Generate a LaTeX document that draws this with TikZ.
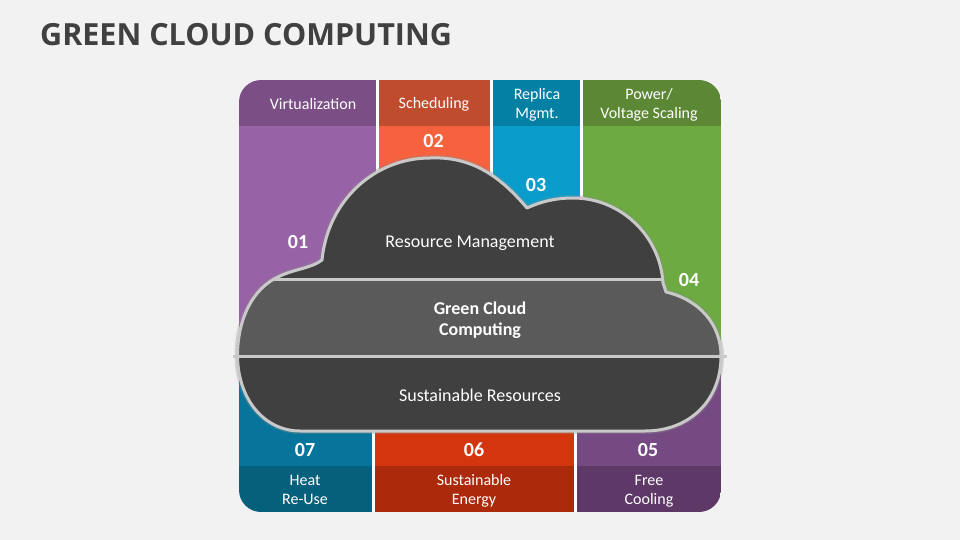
\documentclass[tikz,border=0pt]{standalone}
\usepackage{fontspec}
\setmainfont{Carlito}
\newfontfamily\titlefont{Open Sans}
\definecolor{pageBg}{HTML}{F2F2F2}
\definecolor{cloudDark}{HTML}{404040}
\definecolor{cloudMid}{HTML}{5A5A5A}
\definecolor{cloudEdge}{HTML}{C9C9C9}
\definecolor{purpleA}{HTML}{9862A6}
\definecolor{purpleAh}{HTML}{7B4F85}
\definecolor{orangeA}{HTML}{F5623D}
\definecolor{orangeAh}{HTML}{C04C2F}
\definecolor{blueA}{HTML}{0A9DCB}
\definecolor{blueAh}{HTML}{0480A5}
\definecolor{greenA}{HTML}{6DAA42}
\definecolor{greenAh}{HTML}{5C8735}
\definecolor{tealA}{HTML}{07759B}
\definecolor{tealAh}{HTML}{05607C}
\definecolor{redA}{HTML}{D4340E}
\definecolor{redAh}{HTML}{AB2A0B}
\definecolor{plumA}{HTML}{754982}
\definecolor{plumAh}{HTML}{5E3968}
\tikzset{
  lbl/.style={text=white,font=\fontsize{16}{19}\selectfont,align=center,inner sep=0pt},
  big/.style={text=white,font=\fontsize{18}{21}\selectfont,align=center,inner sep=0pt},
  num/.style={text=white,font=\fontsize{20}{22}\selectfont\bfseries,inner sep=0pt,text height=13pt,text depth=0pt},
  edge/.style={draw=cloudEdge,line width=3pt}
}
\def\cloudpath{(237.5,356) .. controls (237.5,320) and (252,288) .. (280,276)
  .. controls (295,269) and (312,268) .. (322,260)
  .. controls (328,200) and (375,158) .. (430,158)
  .. controls (475,156) and (503,180) .. (527,208)
  .. controls (540,202) and (555,198) .. (573,198)
  .. controls (620,198) and (660,235) .. (663,283)
  -- (666,292)
  .. controls (700,300) and (721,325) .. (721,356)
  .. controls (721,400) and (690,431) .. (645,431)
  -- (300,431)
  .. controls (265,431) and (238,400) .. (237.5,356) -- cycle}
\begin{document}
\begin{tikzpicture}[x=1pt,y=-1pt]
  \fill[pageBg] (0,0) rectangle (960,540);
  \useasboundingbox (0,0) rectangle (960,540);
  \node[anchor=west,inner sep=0pt,text=cloudDark,font=\titlefont\bfseries\fontsize{30.5}{36}\selectfont] (title) at (40,35) {GREEN CLOUD COMPUTING};
  % panels
  \begin{scope}
    \clip[rounded corners=22pt] (239,80) rectangle (721,512);
    \fill[white] (239,80) rectangle (721,300);
    \fill[white] (239,385) rectangle (721,512);
    \foreach \xa/\xb/\col in {239/376/purpleA,379/490/orangeA,493/580/blueA,583/721/greenA}{
      \fill[\col] (\xa,126) rectangle (\xb,340);
      \fill[\col h] (\xa,80) rectangle (\xb,126);
    }
    \foreach \xa/\xb/\col in {239/372/tealA,375/573.5/redA,577/721/plumA}{
      \fill[\col] (\xa,360) rectangle (\xb,466);
      \fill[\col h] (\xa,466) rectangle (\xb,512);
    }
  \end{scope}
  % cloud
  \draw[black!45,opacity=.3,line width=6pt,line join=round] \cloudpath;
  \begin{scope}
    \clip \cloudpath;
    \fill[cloudDark] (230,150) rectangle (730,279);
    \fill[cloudMid] (230,279) rectangle (730,356);
    \fill[cloudDark] (230,356) rectangle (730,440);
  \end{scope}
  \draw[cloudEdge,line width=3pt,line join=round] \cloudpath;
  \coordinate (sepAl) at (274,279);
  \coordinate (sepAr) at (664,279);
  \coordinate (sepBl) at (233,356);
  \coordinate (sepBr) at (727,356);
  \draw[edge] (sepAl) -- (sepAr);
  \draw[edge] (sepBl) -- (sepBr);
  % header texts
  \node[lbl] (virt) at (313,104) {Virtualization};
  \node[lbl] (sched) at (434,104) {Scheduling};
  \node[lbl] (replica) at (537,104.5) {Replica\\Mgmt.};
  \node[lbl] (power) at (649,104.5) {Power/\\Voltage Scaling};
  \node[lbl] (heat) at (305,489.5) {Heat\\Re-Use};
  \node[lbl] (energy) at (474,490.5) {Sustainable\\Energy};
  \node[lbl] (free) at (649,491) {Free\\Cooling};
  % numbers
  \node[num] (n1) at (298,242) {01};
  \node[num] (n2) at (433.5,141) {02};
  \node[num] (n3) at (536,185) {03};
  \node[num] (n4) at (689,280) {04};
  \node[num] (n5) at (648,450) {05};
  \node[num] (n6) at (474,450) {06};
  \node[num] (n7) at (305,450) {07};
  % cloud texts
  \node[big] (resource) at (470,243.5) {Resource Management};
  \node[big,font=\fontsize{18}{21}\selectfont\bfseries] (green) at (480,320) {Green Cloud\\Computing};
  \node[big] (sustain) at (480,395) {Sustainable Resources};
\end{tikzpicture}
\end{document}
